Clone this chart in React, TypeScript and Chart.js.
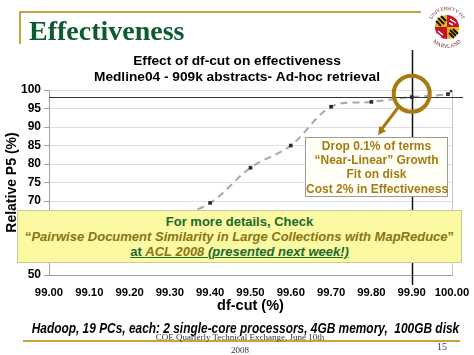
import React, { useEffect, useRef } from "react";
import { Chart, registerables } from "chart.js";

Chart.register(...registerables);

// ---- data ----
const dfCut = [99.0, 99.1, 99.2, 99.3, 99.4, 99.5, 99.6, 99.7, 99.8, 99.9, 99.99, 100.0];
const relativeP5 = [55, 58, 61, 65, 69.5, 79, 85, 95.5, 96.8, 98.1, 98.9, 100];
const xTickValues = [99.0, 99.1, 99.2, 99.3, 99.4, 99.5, 99.6, 99.7, 99.8, 99.9, 100.0];
const yTickValues = [50, 55, 60, 65, 70, 75, 80, 85, 90, 95, 100];
const chartTitle = ["Effect of df-cut on effectiveness", "Medline04 - 909k abstracts- Ad-hoc retrieval"];
const xAxisTitle = "df-cut (%)";
const yAxisTitle = "Relative P5 (%)";
const markerX = 99.9;
const markerY = 98;
const circleY = 99;
const noteLines = ["Drop 0.1% of terms", "\u201CNear-Linear\u201D Growth", "Fit on disk", "Cost 2% in Effectiveness"];

const SANS = "'Liberation Sans', Arial, sans-serif";
const SERIF = "'Liberation Serif', 'Times New Roman', serif";
const GOLD = "#a57b12";

const markerPlugin = {
  id: "markers",
  afterDraw(chart: any) {
    const { ctx, scales, chartArea } = chart;
    const x = scales.x.getPixelForValue(markerX);
    const y = scales.y.getPixelForValue(markerY);
    ctx.save();
    ctx.strokeStyle = "#111";
    ctx.lineWidth = 1.5;
    ctx.beginPath();
    ctx.moveTo(Math.round(x) + 0.5, 50);
    ctx.lineTo(Math.round(x) + 0.5, 285);
    ctx.stroke();
    ctx.lineWidth = 1.2;
    ctx.strokeStyle = "#333";
    ctx.beginPath();
    ctx.moveTo(chartArea.left, Math.round(y) + 0.5);
    ctx.lineTo(463, Math.round(y) + 0.5);
    ctx.stroke();
    // circle
    const cy = scales.y.getPixelForValue(circleY);
    const r = 18;
    ctx.strokeStyle = GOLD;
    ctx.lineWidth = 4;
    ctx.beginPath();
    ctx.arc(x, cy, r, 0, Math.PI * 2);
    ctx.stroke();
    // arrow
    const sx = x - r * 0.72;
    const sy = cy + r * 0.72;
    const ex = 378;
    const ey = 135;
    ctx.lineWidth = 3;
    ctx.beginPath();
    ctx.moveTo(sx, sy);
    ctx.lineTo(ex + 3, ey - 5);
    ctx.stroke();
    const ang = Math.atan2(ey - sy, ex - sx);
    ctx.fillStyle = GOLD;
    ctx.beginPath();
    ctx.moveTo(ex, ey);
    ctx.lineTo(ex - 9 * Math.cos(ang - 0.5), ey - 9 * Math.sin(ang - 0.5));
    ctx.lineTo(ex - 9 * Math.cos(ang + 0.5), ey - 9 * Math.sin(ang + 0.5));
    ctx.closePath();
    ctx.fill();
    ctx.restore();
  },
};

function Logo() {
  return (
    <svg width="50" height="50" viewBox="0 0 50 50" style={{ position: "absolute", left: 422, top: 2 }}>
      <defs>
        <path id="arcTop" d="M 8 25 A 17 17 0 0 1 42 25" />
        <path id="arcBot" d="M 6 27 A 19 19 0 0 0 44 27" />
      </defs>
      <circle cx="25" cy="25" r="23" fill="#fff" />
      <text fontSize="5" fontFamily={SERIF} fill="#7a2020">
        <textPath href="#arcTop" startOffset="50%" textAnchor="middle">UNIVERSITY OF</textPath>
      </text>
      <text fontSize="5.5" fontFamily={SERIF} fill="#7a2020">
        <textPath href="#arcBot" startOffset="50%" textAnchor="middle">MARYLAND</textPath>
      </text>
      <g>
        <path d="M25 25 L25 13 A12 12 0 0 0 13 25 Z" fill="#e8b414" />
        <path d="M25 25 L13 25 A12 12 0 0 0 25 37 Z" fill="#c8102e" />
        <path d="M25 25 L25 37 A12 12 0 0 0 37 25 Z" fill="#e8b414" />
        <path d="M25 25 L37 25 A12 12 0 0 0 25 13 Z" fill="#c8102e" />
        <path d="M16 16 L22 22 M19 14 L24 19 M14 19 L19 24" stroke="#111" strokeWidth="2" />
        <path d="M28 28 L34 34 M31 27 L36 32 M27 31 L32 36" stroke="#111" strokeWidth="2" />
        <path d="M28 17 L34 21 M27 21 L31 23" stroke="#fff" strokeWidth="1.5" />
        <path d="M16 29 L21 33 M15 32 L19 35" stroke="#fff" strokeWidth="1.5" />
      </g>
    </svg>
  );
}

export default function App() {
  const ref = useRef<HTMLCanvasElement>(null);

  useEffect(() => {
    if (!ref.current) return;
    const chart = new Chart(ref.current, {
      type: "line",
      data: {
        datasets: [
          {
            data: dfCut.map((v, i) => ({ x: v, y: relativeP5[i] })),
            borderColor: "#a8a8a8",
            borderWidth: 2,
            borderDash: [7, 5],
            tension: 0.35,
            pointStyle: "rect",
            pointRadius: 2.6,
            pointBackgroundColor: "#1d3b1d",
            pointBorderColor: "#1d3b1d",
            pointBorderWidth: 0,
          },
        ],
      },
      options: {
        responsive: false,
        animation: false,
        devicePixelRatio: 1,
        layout: { padding: { top: 53, left: 0, right: 0, bottom: 41 } },
        plugins: {
          legend: { display: false },
          tooltip: { enabled: false },
          title: {
            display: true,
            text: chartTitle,
            color: "#000",
            font: { family: SANS, size: 13.7, weight: "bold", lineHeight: 1.17 },
            padding: { top: 0, bottom: 5 },
          },
        },
        scales: {
          x: {
            type: "linear",
            min: 99,
            max: 100,
            afterBuildTicks: (s: any) => {
              s.ticks = xTickValues.map((v) => ({ value: v }));
            },
            afterFit: (s: any) => {
              s.height = 39;
              s.paddingLeft = 0;
              s.paddingRight = 0;
            },
            ticks: {
              autoSkip: false,
              maxRotation: 0,
              padding: 11,
              color: "#000",
              font: { family: SANS, size: 11.3, weight: "bold" },
              callback: (v: any) => Number(v).toFixed(2),
            },
            grid: {
              drawTicks: false,
              color: (c: any) => (c.tick && c.tick.value === 100 ? "#c4c4c4" : "rgba(0,0,0,0)"),
            },
            border: { display: true, color: "#a0a0a0" },
            title: {
              display: true,
              text: xAxisTitle,
              color: "#000",
              font: { family: SANS, size: 14.5, weight: "bold", lineHeight: 1.15 },
              padding: { top: 0, bottom: 0 },
            },
          },
          y: {
            min: 50,
            max: 100,
            afterBuildTicks: (s: any) => {
              s.ticks = yTickValues.map((v) => ({ value: v }));
            },
            afterFit: (s: any) => {
              s.width = 49;
            },
            ticks: {
              padding: 3,
              color: "#000",
              font: { family: SANS, size: 12, weight: "bold" },
            },
            grid: { color: "#dedede", tickLength: 5, tickColor: "#a0a0a0" },
            border: { display: true, color: "#a0a0a0" },
            title: {
              display: true,
              text: yAxisTitle,
              color: "#000",
              font: { family: SANS, size: 14, weight: "bold", lineHeight: 1.15 },
              padding: { top: 4, bottom: 0 },
            },
          },
          spacer: {
            type: "linear",
            position: "right",
            display: true,
            min: 0,
            max: 1,
            grid: { display: false },
            border: { display: false },
            ticks: { display: false },
            afterFit: (s: any) => {
              s.width = 22;
            },
          },
        },
      },
      plugins: [markerPlugin],
    } as any);
    return () => chart.destroy();
  }, []);

  return (
    <div style={{ position: "absolute", left: 0, top: 0, width: 474, height: 355, background: "#fff", overflow: "hidden" }}>
      <canvas ref={ref} width={474} height={355} style={{ position: "absolute", left: 0, top: 0 }} />
      {/* slide header */}
      <div style={{ position: "absolute", left: 19, top: 11, width: 402, height: 2, background: "#c9a43a" }} />
      <div style={{ position: "absolute", left: 19, top: 11, width: 2, height: 33, background: "#c9a43a" }} />
      <div style={{ position: "absolute", left: 29, top: 14, fontFamily: SERIF, fontWeight: "bold", fontSize: 28, lineHeight: "34px", color: "#0e5a32", whiteSpace: "nowrap" }}>
        Effectiveness
      </div>
      <Logo />
      {/* annotation note */}
      <div style={{ position: "absolute", left: 305, top: 137, width: 143, height: 60, boxSizing: "border-box", border: "1px solid #9a9a9a", background: "#fffff6", fontFamily: SANS, fontWeight: "bold", fontSize: 12, lineHeight: "14.2px", color: GOLD, textAlign: "center", paddingTop: 1, whiteSpace: "nowrap" }}>
        {noteLines.map((l, i) => (
          <div key={i}>{l}</div>
        ))}
      </div>
      {/* yellow reference box */}
      <div style={{ position: "absolute", left: 17, top: 210, width: 445, height: 53, boxSizing: "border-box", border: "1px solid #c9c9a0", background: "#fbf9a2", fontFamily: SANS, fontWeight: "bold", fontSize: 13, lineHeight: "14.8px", textAlign: "center", paddingTop: 4, whiteSpace: "nowrap" }}>
        <div style={{ color: "#1b6a2c" }}>For more details, Check</div>
        <div style={{ color: "#8a7414" }}>
          <span>{"\u201C"}</span>
          <i>Pairwise Document Similarity in Large Collections with MapReduce</i>
          <span>{"\u201D"}</span>
        </div>
        <div style={{ color: "#1b6a2c", textDecoration: "underline" }}>
          at <i style={{ color: "#8a7414" }}>ACL 2008</i> <i>(presented next week!)</i>
        </div>
      </div>
      {/* bottom text */}
      <div style={{ position: "absolute", left: -6, width: 474, top: 319, textAlign: "center", whiteSpace: "nowrap" }}>
        <span style={{ display: "inline-block", transform: "scaleX(0.85)", transformOrigin: "center", fontFamily: SANS, fontWeight: "bold", fontStyle: "italic", fontSize: 14, lineHeight: "18px", color: "#000" }}>
          Hadoop, 19 PCs, each: 2 single-core processors, 4GB memory,&nbsp; 100GB disk
        </span>
      </div>
      <div style={{ position: "absolute", left: 23, top: 340, width: 437, height: 2, background: "#c9a43a" }} />
      <div style={{ position: "absolute", left: 0, width: 480, top: 332, textAlign: "center", fontFamily: SERIF, fontSize: 9, lineHeight: "11px", color: "#333" }}>
        COE Quarterly Technical Exchange, June 10th
        <br />
        <span style={{ position: "relative", top: 2 }}>2008</span>
      </div>
      <div style={{ position: "absolute", left: 437, top: 341, fontFamily: SERIF, fontSize: 10, color: "#333" }}>15</div>
    </div>
  );
}
